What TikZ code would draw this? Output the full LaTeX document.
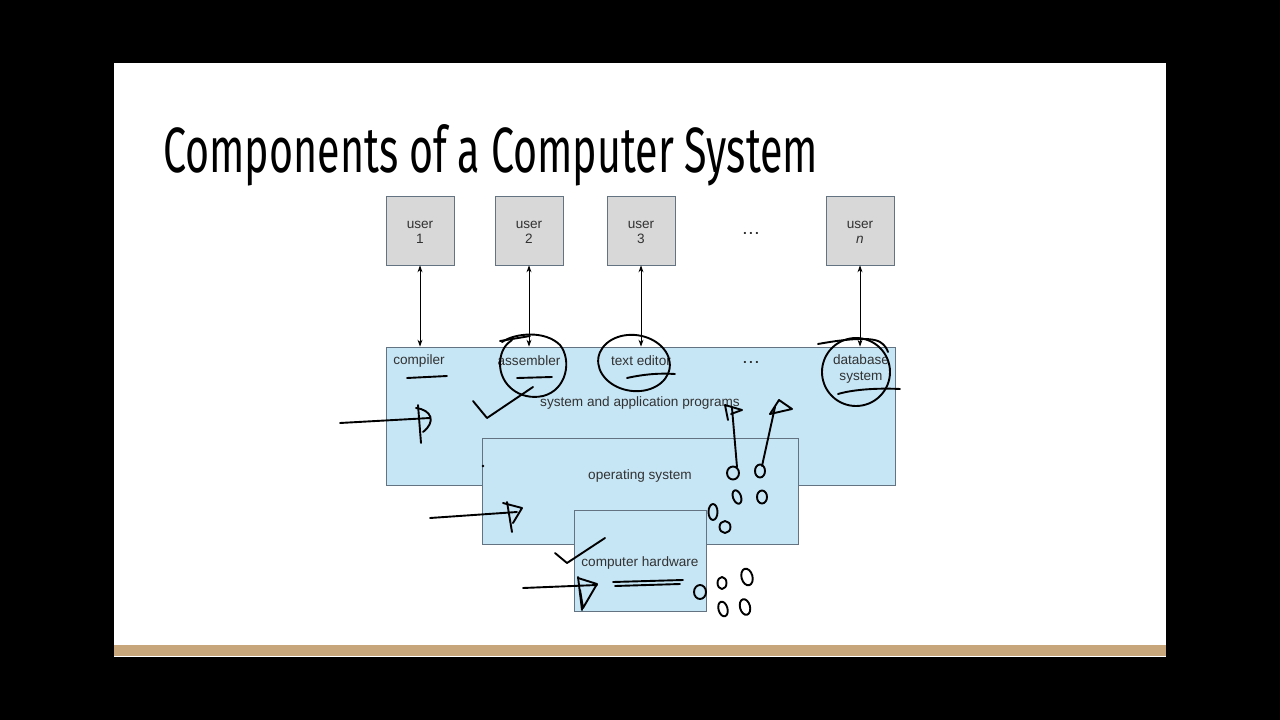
\documentclass[tikz,border=0pt]{standalone}
\usepackage{fontspec}
\setmainfont{Liberation Sans}
\newfontfamily\titlefont{Fira Sans}
\usetikzlibrary{arrows.meta}
\definecolor{sysblue}{RGB}{198,230,246}
\definecolor{usergray}{RGB}{216,216,216}
\definecolor{boxline}{RGB}{100,115,130}
\definecolor{slidetan}{RGB}{198,166,122}
\definecolor{labelgray}{RGB}{50,50,50}
\begin{document}
\begin{tikzpicture}[x=1pt,y=-1pt,
  userbox/.style={draw=boxline, line width=0.7pt, fill=usergray, minimum width=68pt, minimum height=69pt, inner sep=0pt},
  usertxt/.style={text=labelgray, font=\fontsize{13.6}{15}\selectfont, align=center, inner sep=0pt},
  sysbox/.style={draw=boxline, line width=0.7pt, fill=sysblue, inner sep=0pt},
  lbl/.style={text=labelgray, font=\fontsize{13.6}{16}\selectfont, align=center, inner sep=0pt},
  link/.style={draw=black, line width=1pt, {Stealth[length=7pt,width=5pt]}-{Stealth[length=7pt,width=5pt]}},
  ink/.style={draw=black, line width=1.9pt, line cap=round, line join=round}
]
\useasboundingbox (0,0) rectangle (1280,720);
\fill[black] (0,0) rectangle (1280,720);
\fill[white] (114,63) rectangle (1166,657);
\fill[slidetan] (114,645) rectangle (1166,656);

% title
\node[anchor=base west, inner sep=0pt] (title) at (163,172)
  {\resizebox{655pt}{\height}{\titlefont\fontsize{64}{70}\selectfont Components of a Computer System}};

% users
\node[userbox] (u1) at (420,230.5) {};
\node[userbox] (u2) at (529,230.5) {};
\node[userbox] (u3) at (641,230.5) {};
\node[userbox] (un) at (860,230.5) {};
\node[usertxt] (u1t) at (420,232.5) {user\\1};
\node[usertxt] (u2t) at (529,232.5) {user\\2};
\node[usertxt] (u3t) at (641,232.5) {user\\3};
\node[usertxt] (unt) at (860,232.5) {user\\\textit{n}};
\node[lbl] (udots) at (751,233) {\textbf{.\,.\,.}};

% boxes
\node[sysbox, minimum width=509pt, minimum height=138pt] (app) at (640.5,416) {};
\node[sysbox, minimum width=316pt, minimum height=106pt] (os) at (640,491) {};
\node[sysbox, minimum width=132pt, minimum height=101pt] (hw) at (640,560.5) {};

\node[lbl] (compiler) at (419,361) {compiler};
\node[lbl] (assembler) at (529,361) {assembler};
\node[lbl] (editor) at (641,361) {text editor};
\node[lbl] (pdots) at (751,362) {\textbf{.\,.\,.}};
\node[lbl] (db) at (861,369) {database\\system};
\node[lbl] (apptxt) at (640,403) {system and application programs};
\node[lbl] (ostxt) at (640,476) {operating system};
\node[lbl] (hwtxt) at (640,563) {computer hardware};

% connectors
\draw[link] (u1.south) -- (u1.south |- app.north);
\draw[link] (u2.south) -- (u2.south |- app.north);
\draw[link] (u3.south) -- (u3.south |- app.north);
\draw[link] (un.south) -- (un.south |- app.north);

\fill[black] (483,466) circle (1.3);

% handwritten annotations
% compiler underline
\draw[ink] (407,378) -- (447,376);
% assembler circle + underline + check
\draw[ink] (502,342) .. controls (515,333) and (545,330) .. (560,345)
  .. controls (572,360) and (567,390) .. (543,396)
  .. controls (520,401) and (499,385) .. (500,362)
  .. controls (501,350) and (506,344) .. (512,340);
\draw[ink] (500,341) -- (530,336);
\draw[ink] (517,378) -- (552,377);
\draw[ink] (473,401) -- (487,418) -- (533,387);
% text editor circle + underline
\draw[ink, rotate around={-8:(634,363)}] (634,363) ellipse [x radius=36, y radius=28];
\draw[ink] (627,378) .. controls (645,374) and (660,373) .. (675,374);
% database circle + strokes
\draw[ink] (856,372) circle (34);
\draw[ink] (818,344) .. controls (840,340) and (870,336) .. (880,342) .. controls (885,345) and (887,349) .. (888,352);
\draw[ink] (838,394) .. controls (855,389) and (880,388) .. (900,389);
% P mark 1
\draw[ink] (340,423) -- (430,418);
\draw[ink] (418,405) -- (421,443);
\draw[ink] (416,408) .. controls (432,410) and (436,422) .. (423,432);
% P mark 2
\draw[ink] (430,518) -- (517,512);
\draw[ink] (507,502) -- (512,532);
\draw[ink] (503,503) -- (522,508) -- (513,523);
% check at hardware
\draw[ink] (555,553) -- (567,563) -- (605,538);
% arrow mark 3
\draw[ink] (523,588) -- (597,585);
\draw[ink] (578,577) -- (582,610);
\draw[ink] (578,578) -- (597,584) -- (583,608) -- (580,590);
% double line
\draw[ink] (613,582) -- (683,580);
\draw[ink] (615,586) -- (680,584);
% up arrows
\draw[ink] (737,467) -- (732,408);
\draw[ink] (728,420) -- (725,405) -- (742,410) -- (731,414);
\draw[ink] (762,466) -- (775,407);
\draw[ink] (770,414) -- (779,400) -- (792,409) -- (770,414);
% little o's
\draw[ink] (733,473) ellipse [x radius=6, y radius=6.5];
\draw[ink] (760,471) ellipse [x radius=5, y radius=6.5];
\draw[ink, rotate around={20:(737,497)}] (737,497) ellipse [x radius=4, y radius=7];
\draw[ink] (762,497) ellipse [x radius=5, y radius=6.5];
\draw[ink] (713,512) ellipse [x radius=4.5, y radius=8];
\draw[ink] (725,527) ellipse [x radius=5.5, y radius=6];
\draw[ink] (700,592) ellipse [x radius=6, y radius=7];
\draw[ink] (722,583) ellipse [x radius=4.5, y radius=6];
\draw[ink, rotate around={15:(747,577)}] (747,577) ellipse [x radius=5.5, y radius=8.5];
\draw[ink, rotate around={15:(723,609)}] (723,609) ellipse [x radius=4.5, y radius=7.5];
\draw[ink, rotate around={15:(745,607)}] (745,607) ellipse [x radius=5, y radius=8];
\end{tikzpicture}
\end{document}
